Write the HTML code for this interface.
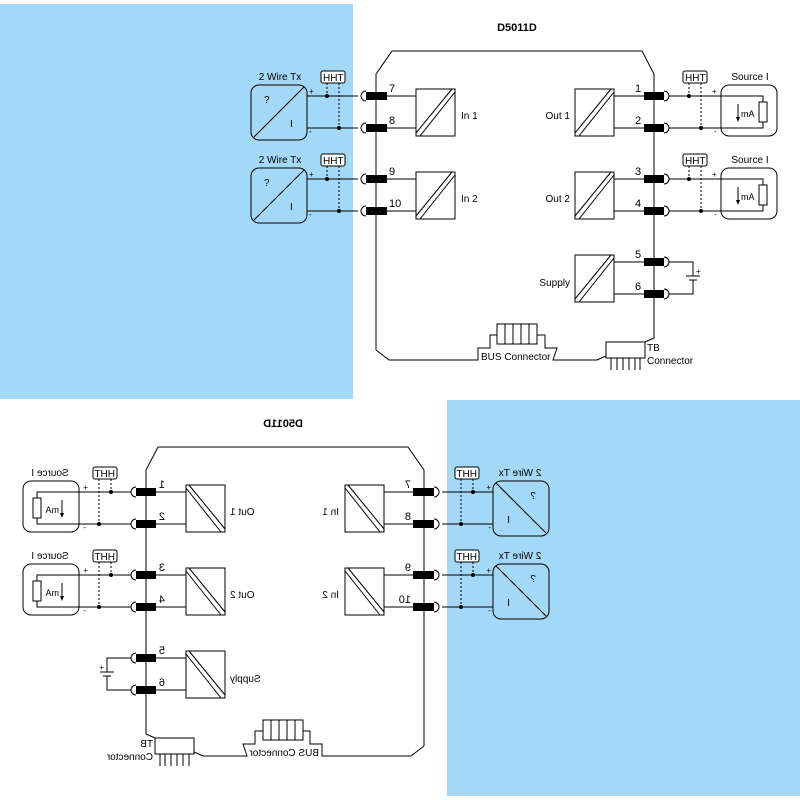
<!DOCTYPE html>
<html><head><meta charset="utf-8"><style>
html,body{margin:0;padding:0;background:#fff;}
svg{display:block;font-family:"Liberation Sans",sans-serif;}
</style></head><body>
<svg width="800" height="800" viewBox="0 0 800 800" xmlns="http://www.w3.org/2000/svg">
<rect x="0" y="4" width="353" height="395" fill="#a3d8f6"/>
<rect x="447" y="400" width="353" height="396" fill="#a3d8f6"/>
<defs>
<g id="d">
<g fill="none" stroke="#000" stroke-width="1">
<path d="M376,350 V74 L392,51 H642 L654,74 V338 L645,342"/>
<path d="M376,350 L389,360 H478 V348 H490 V335 H497"/>
<path d="M537,335 H545 V348 H557 L553,360 H597 L606,356"/>
<rect x="497" y="324" width="40" height="20" fill="#fff"/>
<path d="M505,324V344M513,324V344M521,324V344M529,324V344"/>
<rect x="606" y="342" width="39" height="16" fill="#fff"/>
<path d="M611,358V370M617,358V370M623,358V370M629,358V370M635,358V370M640,358V370"/>
<!-- modules -->
<g fill="#fff">
<rect x="416" y="89" width="39" height="47"/><rect x="416" y="172" width="39" height="47"/>
<rect x="575" y="89" width="39" height="47"/><rect x="575" y="172" width="39" height="47"/>
<rect x="575" y="255" width="39" height="47"/>
</g>
<path d="M416,133L452,89M420,136L455,92M416,216L452,172M420,219L455,175M575,133L611,89M579,136L614,92M575,216L611,172M579,219L614,175M575,299L611,255M579,302L614,258"/>
<!-- internal wires -->
<path d="M387,96H416M387,128H416M387,179H416M387,211H416M614,96H644M614,128H644M614,179H644M614,211H644M614,262H644M614,294H644"/>
<!-- cups -->
<path d="M366,91A5,5 0 0 0 366,101M366,123A5,5 0 0 0 366,133M366,174A5,5 0 0 0 366,184M366,206A5,5 0 0 0 366,216"/>
<path d="M664,91A5,5 0 0 1 664,101M664,123A5,5 0 0 1 664,133M664,174A5,5 0 0 1 664,184M664,206A5,5 0 0 1 664,216M664,257A5,5 0 0 1 664,267M664,289A5,5 0 0 1 664,299"/>
<!-- Tx boxes -->
<rect x="251" y="85" width="56" height="55" rx="8"/><path d="M254,137L304,87"/>
<rect x="251" y="168" width="56" height="55" rx="8"/><path d="M254,220L304,170"/>
<path d="M307,96H358M307,128H358M307,179H358M307,211H358"/>
<!-- Source boxes -->
<rect x="721" y="85" width="56" height="51" rx="8"/><rect x="721" y="168" width="56" height="51" rx="8"/>
<path d="M669,96H763V102M669,128H763V122M669,179H763V185M669,211H763V205"/>
<rect x="759" y="102" width="8" height="20"/><rect x="759" y="185" width="8" height="20"/>
<path d="M738,104V120M738,187V203"/>
<!-- supply -->
<path d="M669,262H693V276M669,294H693V280M686,276H700M689,280H697"/>
<!-- HHT -->
<g stroke-dasharray="2,2"><path d="M327,83V96M339,83V128M327,166V179M339,166V211M689,83V96M701,83V128M689,166V179M701,166V211"/></g>
<rect x="321" y="71" width="24" height="12" rx="2" fill="#fff"/><rect x="321" y="154" width="24" height="12" rx="2" fill="#fff"/>
<rect x="683" y="71" width="24" height="12" rx="2" fill="#fff"/><rect x="683" y="154" width="24" height="12" rx="2" fill="#fff"/>
</g>
<g fill="#000">
<rect x="366" y="92" width="21" height="8"/><rect x="366" y="124" width="21" height="8"/>
<rect x="366" y="175" width="21" height="8"/><rect x="366" y="207" width="21" height="8"/>
<rect x="644" y="92" width="20" height="8"/><rect x="644" y="124" width="20" height="8"/>
<rect x="644" y="175" width="20" height="8"/><rect x="644" y="207" width="20" height="8"/>
<rect x="644" y="258" width="20" height="8"/><rect x="644" y="290" width="20" height="8"/>
<circle cx="327" cy="96" r="2"/><circle cx="339" cy="128" r="2"/><circle cx="327" cy="179" r="2"/><circle cx="339" cy="211" r="2"/>
<circle cx="689" cy="96" r="2"/><circle cx="701" cy="128" r="2"/><circle cx="689" cy="179" r="2"/><circle cx="701" cy="211" r="2"/>
<path d="M736,117L738,122L740,117ZM736,200L738,205L740,200Z"/>
</g>
<g font-size="11">
<text x="389" y="92">7</text><text x="389" y="124">8</text><text x="389" y="175">9</text><text x="389" y="207">10</text>
<text x="635" y="92">1</text><text x="635" y="124">2</text><text x="635" y="175">3</text><text x="635" y="207">4</text>
<text x="635" y="258">5</text><text x="635" y="290">6</text>
<text x="517" y="31" font-weight="bold" text-anchor="middle">D5011D</text>
</g>
<g font-size="10">
<text x="461" y="119">In 1</text><text x="461" y="202">In 2</text>
<text x="570" y="119" text-anchor="end">Out 1</text><text x="570" y="202" text-anchor="end">Out 2</text>
<text x="570" y="286" text-anchor="end">Supply</text>
<text x="280" y="80" text-anchor="middle">2 Wire Tx</text><text x="280" y="163" text-anchor="middle">2 Wire Tx</text>
<text x="750" y="80" text-anchor="middle">Source I</text><text x="750" y="163" text-anchor="middle">Source I</text>
<text x="264" y="103">?</text><text x="290" y="127">I</text><text x="264" y="186">?</text><text x="290" y="210">I</text>
<text x="741" y="117" font-size="9">mA</text><text x="741" y="200" font-size="9">mA</text>
<text x="323" y="81">HHT</text><text x="323" y="164">HHT</text><text x="685" y="81">HHT</text><text x="685" y="164">HHT</text>
<text x="309" y="94" font-size="8">+</text><text x="309" y="134" font-size="8">-</text>
<text x="309" y="177" font-size="8">+</text><text x="309" y="217" font-size="8">-</text>
<text x="712" y="94" font-size="8">+</text><text x="714" y="134" font-size="8">-</text>
<text x="712" y="177" font-size="8">+</text><text x="714" y="217" font-size="8">-</text>
<text x="696" y="274" font-size="8">+</text>
<text x="481" y="360">BUS Connector</text>
<text x="647" y="351">TB</text><text x="647" y="364">Connector</text>
</g>
</g>
</defs>
<use href="#d"/>
<use href="#d" transform="translate(800,396) scale(-1,1)"/>
</svg>
</body></html>
